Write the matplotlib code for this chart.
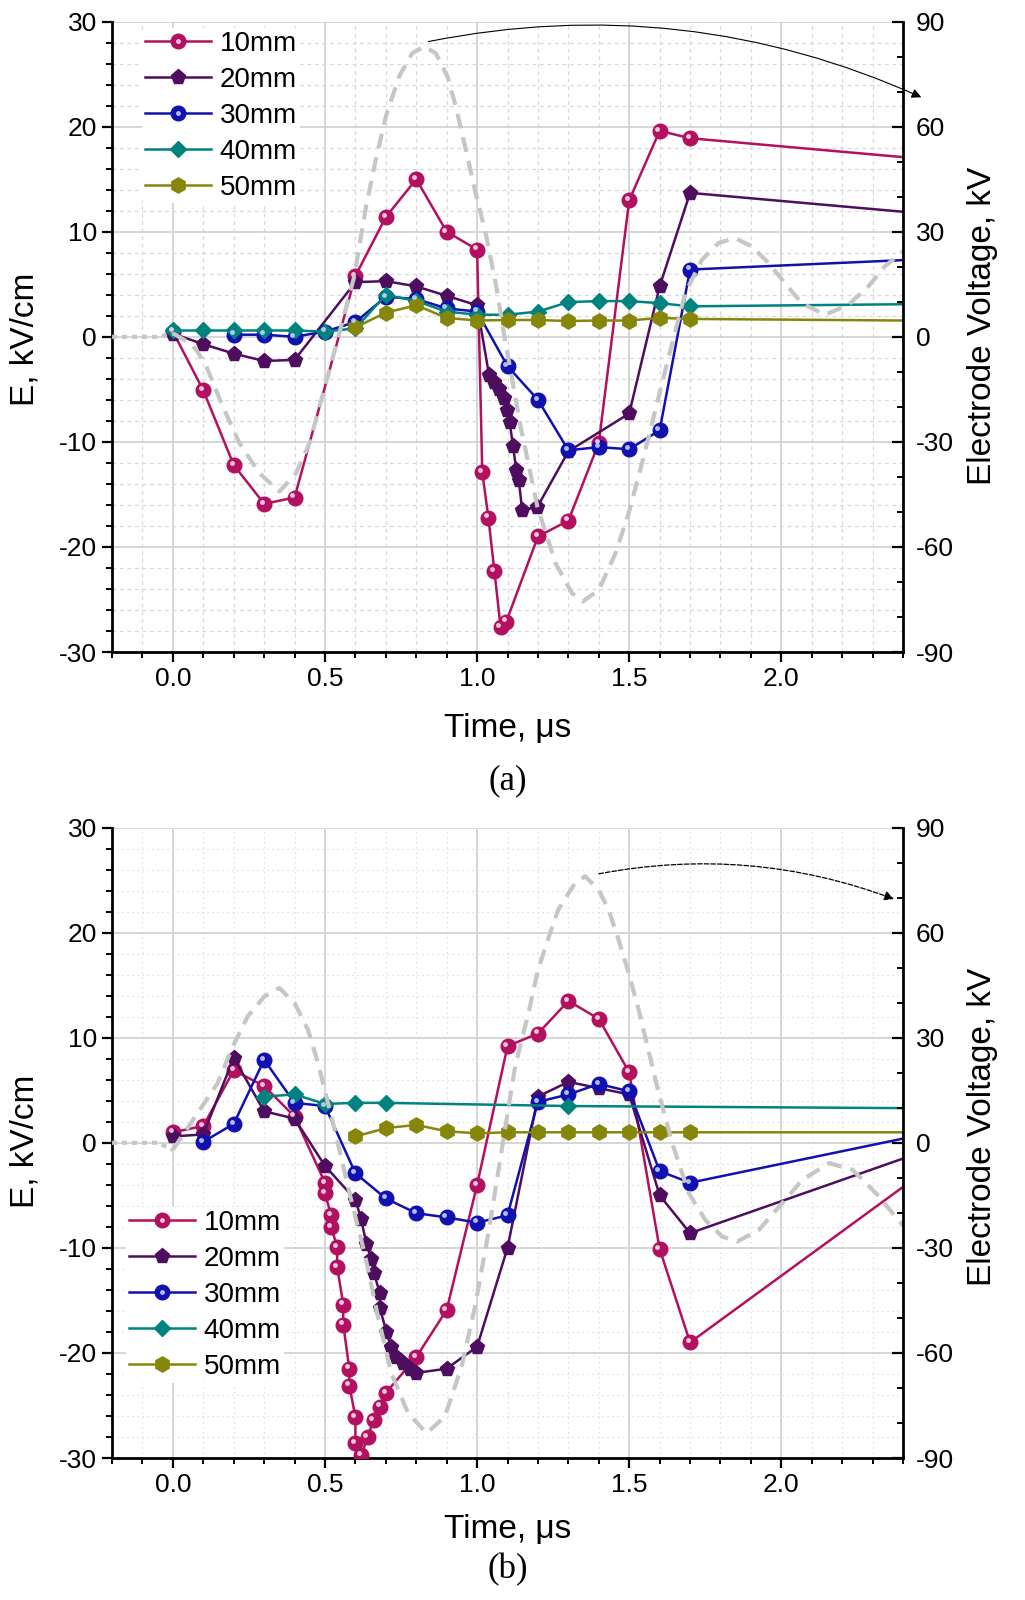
import matplotlib
matplotlib.use("Agg")
import matplotlib.pyplot as plt
from matplotlib.ticker import MultipleLocator, FormatStrFormatter
from matplotlib.transforms import offset_copy
from matplotlib.lines import Line2D
from matplotlib.legend_handler import HandlerTuple

plt.rcParams['font.family'] = ['Liberation Sans', 'DejaVu Sans']
plt.rcParams['axes.unicode_minus'] = False

labels = ['10mm', '20mm', '30mm', '40mm', '50mm']
colors = ['#b3105f', '#4e0d5e', '#1111b0', '#00837e', '#86860a']
markers = ['o', 'p', 'o', 'D', 'h']
msizes = [10.5, 11, 10.5, 8.5, 11]
balls = [True, False, True, False, False]

# ---- panel (a) ----
t10a = [0, 0.1, 0.2, 0.3, 0.4, 0.6, 0.7, 0.8, 0.9, 1.0, 1.017, 1.037, 1.057, 1.077, 1.096,
        1.2, 1.3, 1.4, 1.5, 1.6, 1.7, 2.4]
e10a = [0.5, -5.1, -12.2, -15.9, -15.3, 5.8, 11.4, 15.0, 10.0, 8.3, -12.9, -17.2, -22.3, -27.6, -27.1,
        -19.0, -17.5, -10.1, 13.0, 19.6, 18.9, 17.1]
t20a = [0, 0.1, 0.2, 0.3, 0.4, 0.6, 0.7, 0.8, 0.9, 1.0, 1.039, 1.055, 1.072, 1.088, 1.099, 1.107,
        1.118, 1.129, 1.137, 1.148, 1.198, 1.3, 1.5, 1.6, 1.7, 2.4]
e20a = [0.3, -0.7, -1.6, -2.3, -2.2, 5.2, 5.3, 4.8, 3.9, 3.0, -3.6, -4.3, -5.0, -5.8, -7.0, -8.1,
        -10.4, -12.7, -13.6, -16.5, -16.2, -10.9, -7.3, 4.8, 13.7, 11.9]
t30a = [0.2, 0.3, 0.4, 0.5, 0.6, 0.7, 0.8, 0.9, 1.0, 1.1, 1.2, 1.3, 1.4, 1.5, 1.6, 1.7, 2.4]
e30a = [0.2, 0.2, 0.0, 0.5, 1.4, 3.8, 3.6, 2.7, 2.4, -2.8, -6.0, -10.8, -10.5, -10.7, -8.9, 6.4, 7.3]
t40a = [0, 0.1, 0.2, 0.3, 0.4, 0.5, 0.6, 0.7, 0.8, 0.9, 1.0, 1.1, 1.2, 1.3, 1.4, 1.5, 1.6, 1.7, 2.4]
e40a = [0.6, 0.6, 0.6, 0.6, 0.6, 0.5, 0.8, 4.0, 3.4, 2.4, 2.1, 2.1, 2.4, 3.3, 3.4, 3.4, 3.2, 2.9, 3.1]
t50a = [0.6, 0.7, 0.8, 0.9, 1.0, 1.1, 1.2, 1.3, 1.4, 1.5, 1.6, 1.7, 2.4]
e50a = [0.9, 2.3, 3.0, 1.8, 1.55, 1.6, 1.6, 1.5, 1.55, 1.55, 1.8, 1.7, 1.55]

tva = [-0.2, -0.05, 0.0, 0.05, 0.077, 0.11, 0.164, 0.219, 0.284, 0.35, 0.405, 0.449, 0.503, 0.547,
       0.596, 0.635, 0.667, 0.70, 0.744, 0.787, 0.826, 0.864, 0.902, 0.93, 0.963, 0.995, 1.028,
       1.061, 1.088, 1.143, 1.198, 1.258, 1.312, 1.347, 1.40, 1.455, 1.498, 1.542, 1.586, 1.63,
       1.684, 1.739, 1.794, 1.848, 1.903, 1.958, 2.012, 2.067, 2.144, 2.22, 2.286, 2.34, 2.40]
va = [0, 0, 1.0, -1.5, -3.7, -8.5, -19.9, -30.4, -38.9, -44.2, -38.9, -30.4, -13.2, 1.0,
      17.2, 37.2, 50.6, 62.9, 74.4, 81.0, 82.9, 81.0, 74.4, 65.8, 53.4, 41.1, 29.6,
      15.3, 1.0, -25.6, -48.5, -64.7, -73.2, -75.6, -72.3, -61.8, -50.4, -36.1, -20.9, -5.6,
      12.5, 22.0, 26.8, 28.2, 25.8, 21.1, 15.3, 9.6, 6.3, 9.1, 14.4, 20.1, 24.4]

# ---- panel (b) ----
t10b = [0, 0.1, 0.2, 0.3, 0.4, 0.5, 0.5, 0.52, 0.52, 0.54, 0.54, 0.56, 0.56, 0.58, 0.58, 0.6, 0.6,
        0.62, 0.64, 0.66, 0.68, 0.7, 0.8, 0.9, 1.0, 1.1, 1.2, 1.3, 1.4, 1.5, 1.6, 1.7, 2.4]
e10b = [1.0, 1.6, 6.9, 5.4, 2.5, -3.8, -4.8, -6.9, -8.0, -9.9, -11.8, -15.4, -17.3, -21.5, -23.1,
        -26.1, -28.6, -29.7, -28.0, -26.4, -25.1, -23.8, -20.4, -15.9, -4.0, 9.2, 10.4, 13.5, 11.8,
        6.7, -10.1, -19.0, -4.2]
t20b = [0, 0.1, 0.2, 0.3, 0.4, 0.5, 0.6, 0.619, 0.636, 0.652, 0.661, 0.68, 0.68, 0.702, 0.716,
        0.735, 0.757, 0.779, 0.8, 0.9, 1.0, 1.1, 1.2, 1.3, 1.4, 1.5, 1.6, 1.7, 2.4]
e20b = [0.6, 0.8, 8.1, 3.0, 2.3, -2.2, -5.4, -7.3, -9.6, -11.1, -12.4, -14.3, -15.7, -18.0, -19.4,
        -20.4, -21.0, -21.5, -21.9, -21.5, -19.4, -10.0, 4.4, 5.8, 5.2, 4.6, -5.0, -8.6, -1.5]
t30b = [0.1, 0.2, 0.3, 0.4, 0.5, 0.6, 0.7, 0.8, 0.9, 1.0, 1.1, 1.2, 1.3, 1.4, 1.5, 1.6, 1.7, 2.4]
e30b = [0.1, 1.8, 7.9, 3.8, 3.5, -2.9, -5.3, -6.7, -7.1, -7.6, -6.9, 3.9, 4.6, 5.6, 4.9, -2.7, -3.8, 0.4]
t40b = [0.3, 0.4, 0.5, 0.6, 0.7, 1.3, 2.4]
e40b = [4.4, 4.6, 3.7, 3.8, 3.8, 3.5, 3.3]
t50b = [0.6, 0.7, 0.8, 0.9, 1.0, 1.1, 1.2, 1.3, 1.4, 1.5, 1.6, 1.7, 2.4]
e50b = [0.6, 1.4, 1.7, 1.1, 0.9, 1.0, 1.0, 1.0, 1.0, 1.0, 1.0, 1.0, 1.0]

tvb = [-0.2, -0.05, 0.0, 0.059, 0.147, 0.197, 0.246, 0.301, 0.35, 0.40, 0.444, 0.477, 0.499, 0.531,
       0.586, 0.63, 0.674, 0.718, 0.773, 0.834, 0.894, 0.949, 0.993, 1.037, 1.081, 1.125, 1.169,
       1.20, 1.24, 1.267, 1.322, 1.355, 1.399, 1.432, 1.465, 1.498, 1.531, 1.597, 1.641, 1.696,
       1.75, 1.806, 1.855, 1.926, 2.003, 2.069, 2.157, 2.234, 2.311, 2.404]
vb = [0, 0, -2.0, 5.6, 17.0, 27.5, 36.1, 41.8, 44.2, 39.9, 32.3, 22.8, 15.1, 4.0,
      -16.3, -31.5, -49.6, -65.8, -77.2, -82.9, -78.2, -63.9, -46.8, -25.8, -2.0, 21.8, 37.1,
      49.4, 59.9, 66.6, 74.2, 76.1, 72.3, 66.6, 58.0, 48.5, 38.0, 14.2, 0.0, -14.4,
      -22.0, -26.8, -28.2, -24.9, -17.2, -10.6, -5.8, -7.7, -14.4, -24.0]

fig = plt.figure(figsize=(10.25, 16), dpi=100)
ax_a = fig.add_axes([0.1093, 0.5925, 0.7717, 0.394])
ax_b = fig.add_axes([0.1093, 0.08875, 0.7717, 0.394])

FS = 19


def style_axes(ax, ax2, minor_ls):
    ax.set_xlim(-0.2, 2.4)
    ax.set_ylim(-30, 30)
    ax.xaxis.set_major_locator(MultipleLocator(0.5))
    ax.xaxis.set_minor_locator(MultipleLocator(0.1))
    ax.xaxis.set_major_formatter(FormatStrFormatter('%.1f'))
    ax.yaxis.set_major_locator(MultipleLocator(10))
    ax.yaxis.set_minor_locator(MultipleLocator(2))
    ax.grid(which='major', color='#cfcfcf', lw=1.2, ls='-')
    ax.grid(which='minor', color='#d8d8d8', lw=0.9, ls=minor_ls)
    ax.set_axisbelow(True)
    ax.spines['top'].set_visible(False)
    ax.spines['right'].set_visible(False)
    for s in ['left', 'bottom']:
        ax.spines[s].set_linewidth(2)
    ax.tick_params(which='major', direction='out', length=7, width=1.6, labelsize=FS, pad=4)
    ax.tick_params(which='minor', direction='out', length=4, width=1.4)
    ax.tick_params(axis='y', which='both', right=False)

    ax2.set_ylim(-90, 90)
    ax2.yaxis.set_major_locator(MultipleLocator(30))
    ax2.yaxis.set_minor_locator(MultipleLocator(10))
    ax2.spines['top'].set_visible(False)
    ax2.spines['left'].set_visible(False)
    ax2.spines['bottom'].set_visible(False)
    ax2.spines['right'].set_linewidth(2)
    ax2.tick_params(which='major', direction='in', length=8, width=1.6, labelsize=FS, pad=9)
    ax2.tick_params(which='minor', direction='in', length=4, width=1.4)


def draw_series(ax, ts, es):
    handles = []
    for t, e, lab, c, m, ms, ball in zip(ts, es, labels, colors, markers, msizes, balls):
        ln, = ax.plot(t, e, color=c, lw=1.8, marker=m, ms=ms, mfc=c, mec=c,
                      markevery=list(range(len(t) - 1)), label=lab, zorder=3)
        h = ln
        if ball:
            hl_col = '#f4dcea' if c == colors[0] else '#c8d0f8'
            hl_tr = offset_copy(ax.transData, fig=fig, x=-1.6, y=1.6, units='points')
            ax.plot(t[:-1], e[:-1], ls='none', marker='o', ms=3.5, mfc=hl_col,
                    mec='none', alpha=0.9, transform=hl_tr, zorder=3.5)
            hl = Line2D([], [], ls='none', marker='o', ms=3.5, mfc=hl_col, mec='none', alpha=0.9)
            h = (ln, hl)
        handles.append(h)
    return handles


def draw_voltage(ax2, t, v):
    ax2.plot(t[:3], v[:3], color='#c6c6c6', lw=3, ls=(0, (1.2, 1.2)))
    ax2.plot(t[2:], v[2:], color='#c6c6c6', lw=3, ls=(0, (3.6, 2.2)))


panels = [
    (ax_a, [t10a, t20a, t30a, t40a, t50a], [e10a, e20a, e30a, e40a, e50a], tva, va),
    (ax_b, [t10b, t20b, t30b, t40b, t50b], [e10b, e20b, e30b, e40b, e50b], tvb, vb),
]

for i, (ax, ts, es, tv, vv) in enumerate(panels):
    ax2 = ax.twinx()
    style_axes(ax, ax2, (0, (3, 3)) if i == 0 else (0, (1, 3)))
    hs = draw_series(ax, ts, es)
    draw_voltage(ax2, tv, vv)
    if i == 0:
        anchor = (0.02, 1.012)
    else:
        anchor = (0.0, 0.42)
    leg = ax.legend(hs, labels, loc='upper left', bbox_to_anchor=anchor, fontsize=20,
                    frameon=True, facecolor='white', edgecolor='none', framealpha=1,
                    borderpad=0.1, handlelength=2.4, handletextpad=0.3, labelspacing=0.36,
                    handler_map={tuple: HandlerTuple(ndivide=1)})
    leg.set_zorder(5)

# curved arrows pointing to the voltage axis
ax_a.annotate('', xy=(2.46, 22.8), xytext=(0.84, 28.1), annotation_clip=False,
              arrowprops=dict(arrowstyle='-|>', color='k', lw=0.8, mutation_scale=14,
                              shrinkA=0, shrinkB=0, connectionstyle='arc3,rad=-0.16'))
ax_b.annotate('', xy=(2.37, 23.2), xytext=(1.40, 25.6), annotation_clip=False,
              arrowprops=dict(arrowstyle='-|>', color='k', lw=0.9, ls='--', mutation_scale=14,
                              shrinkA=0, shrinkB=0, connectionstyle='arc3,rad=-0.14'))

H = 1600.0
LW = 1025.0
for yl, yr, yx in [(339, 326, 729), (1141, 1127, 1529)]:
    fig.text(25.5 / LW, 1 - yl / H, 'E, kV/cm', rotation=90, ha='center', va='center', fontsize=24)
    fig.text(982 / LW, 1 - yr / H, 'Electrode Voltage, kV', rotation=90, ha='center', va='center',
             fontsize=24)
    fig.text(0.5 * (112 + 903) / LW, 1 - yx / H, 'Time, \u03bcs', ha='center', va='center', fontsize=24)

fig.text(0.5 * (112 + 903) / LW, 1 - 781 / H, '(a)', ha='center', va='center', fontsize=25,
         family=['Liberation Serif', 'DejaVu Serif'])
fig.text(0.5 * (112 + 903) / LW, 1 - 1570 / H, '(b)', ha='center', va='center', fontsize=25,
         family=['Liberation Serif', 'DejaVu Serif'])

fig.savefig('out.png', dpi=100, facecolor='white')
